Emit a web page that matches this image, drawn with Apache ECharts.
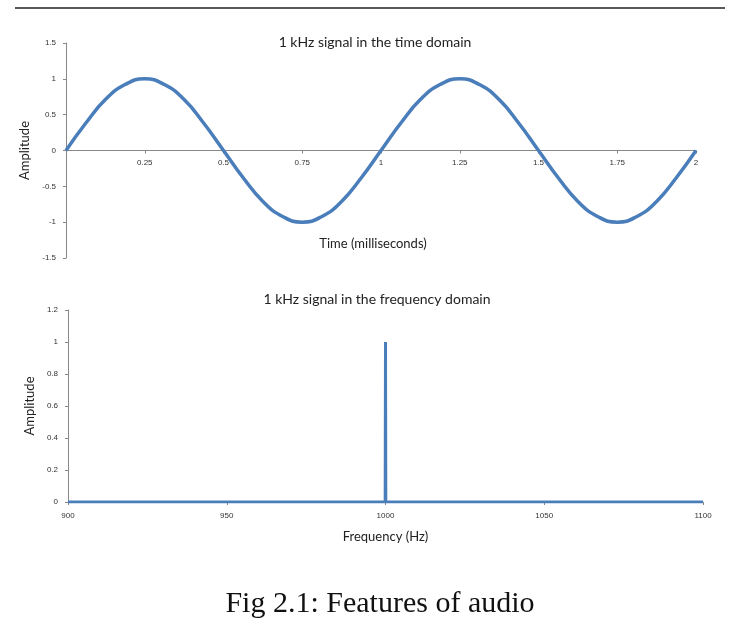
<!DOCTYPE html>
<html><head><meta charset="utf-8">
<script src="https://cdn.jsdelivr.net/npm/echarts@6/dist/echarts.min.js"></script>
<style>body{margin:0;background:#fff}#c{width:739px;height:636px}</style>
</head><body><div id="c"></div>
<script>
// time domain (ms, amplitude)
var timeMs = [0,0.0625,0.125,0.1875,0.25,0.3125,0.375,0.4375,0.5,0.5625,0.625,0.6875,0.75,0.8125,0.875,0.9375,1,
  1.0625,1.125,1.1875,1.25,1.3125,1.375,1.4375,1.5,1.5625,1.625,1.6875,1.75,1.8125,1.875,1.9375,2];
var timeAmp = [0,0.38,0.71,0.92,1,0.92,0.71,0.38,0,-0.38,-0.71,-0.92,-1,-0.92,-0.71,-0.38,0,
  0.38,0.71,0.92,1,0.92,0.71,0.38,0,-0.38,-0.71,-0.92,-1,-0.92,-0.71,-0.38,0];
// frequency domain
var freqHz = [900,999.9,1000,1000.1,1100];
var freqAmp = [0,0,1,0,0];
var timeTicks = [0.25,0.5,0.75,1,1.25,1.5,1.75,2];

var blue = '#4a7ebb';
var small = {fontSize:8, color:'#333', fontFamily:'Liberation Sans'};
var chart = echarts.init(document.getElementById('c'));
chart.setOption({
  animation:false,
  title:[
    {text:'1 kHz signal in the time domain', left:370, top:30, textAlign:'center', textStyle:{fontSize:14, fontWeight:'normal', color:'#222', fontFamily:'Lato'}},
    {text:'Time (milliseconds)', left:368, top:232, textAlign:'center', textStyle:{fontSize:13, fontWeight:'normal', color:'#222', fontFamily:'Lato'}},
    {text:'1 kHz signal in the frequency domain', left:372, top:287, textAlign:'center', textStyle:{fontSize:14, fontWeight:'normal', color:'#222', fontFamily:'Lato'}},
    {text:'Fig 2.1: Features of audio', left:375, top:584, textAlign:'center', textStyle:{fontSize:30, fontWeight:'normal', color:'#111', fontFamily:'Liberation Serif'}}
  ],
  graphic:[{type:'line', shape:{x1:15,y1:8,x2:725,y2:8}, style:{stroke:'#222', lineWidth:1.5}}],
  grid:[
    {left:66, right:43, top:43, height:215},
    {left:68, right:36, top:310, height:192}
  ],
  xAxis:[
    {gridIndex:0, type:'value', min:0, max:2, interval:0.25, position:'bottom', offset:-107.5,
     axisLine:{onZero:false, lineStyle:{color:'#888'}}, axisTick:{show:true, length:3},
     splitLine:{show:false},
     axisLabel:Object.assign({formatter:function(v){return timeTicks.indexOf(v)>=0?String(v):'';}, margin:8}, small)},
    {gridIndex:1, type:'value', min:900, max:1100, interval:50,
     name:'Frequency (Hz)', nameLocation:'middle', nameGap:28,
     nameTextStyle:{fontSize:13, color:'#222', fontFamily:'Lato'},
     axisLine:{onZero:true, lineStyle:{color:'#888'}}, axisTick:{length:3}, splitLine:{show:false},
     axisLabel:Object.assign({margin:10, formatter:function(v){return String(v);}}, small)}
  ],
  yAxis:[
    {gridIndex:0, type:'value', min:-1.5, max:1.5, interval:0.5,
     name:'Amplitude', nameLocation:'middle', nameGap:30,
     nameTextStyle:{fontSize:13, color:'#222', fontFamily:'Lato'},
     axisLine:{show:true, lineStyle:{color:'#888'}}, axisTick:{show:true, length:3}, splitLine:{show:false},
     axisLabel:Object.assign({margin:10}, small)},
    {gridIndex:1, type:'value', min:0, max:1.2, interval:0.2,
     name:'Amplitude', nameLocation:'middle', nameGap:32,
     nameTextStyle:{fontSize:13, color:'#222', fontFamily:'Lato'},
     axisLine:{show:true, lineStyle:{color:'#888'}}, axisTick:{show:true, length:3}, splitLine:{show:false},
     axisLabel:Object.assign({margin:10, formatter:function(v){return String(Math.round(v*10)/10);}}, small)}
  ],
  series:[
    {type:'line', xAxisIndex:0, yAxisIndex:0, smooth:true, symbol:'none',
     lineStyle:{color:blue, width:3.5},
     data:timeMs.map(function(t,i){return [t,timeAmp[i]];})},
    {type:'line', xAxisIndex:1, yAxisIndex:1, symbol:'none',
     lineStyle:{color:blue, width:3},
     data:freqHz.map(function(f,i){return [f,freqAmp[i]];})}
  ]
});
</script></body></html>
